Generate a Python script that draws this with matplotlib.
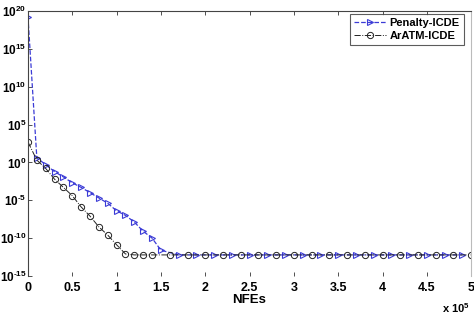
import matplotlib
matplotlib.use("Agg")
import matplotlib.pyplot as plt

plt.rcParams['font.family'] = ['Liberation Sans', 'DejaVu Sans']
plt.rcParams['mathtext.fontset'] = 'custom'
plt.rcParams['mathtext.rm'] = 'Liberation Sans'
plt.rcParams['mathtext.bf'] = 'Liberation Sans:bold'
plt.rcParams['mathtext.it'] = 'Liberation Sans:italic'

# NFEs in units of 1e5
pen_x = [0.0, 0.1, 0.2, 0.3, 0.4, 0.5, 0.6, 0.7, 0.8, 0.9, 1.0, 1.1, 1.2, 1.3, 1.4, 1.5,
         1.7, 1.9, 2.1, 2.3, 2.5, 2.7, 2.9, 3.1, 3.3, 3.5, 3.7, 3.9, 4.1, 4.3, 4.5, 4.7, 4.9]
pen_y = [1.6e19, 4e0, 5e-1, 6e-2, 1.2e-2, 2e-3, 5e-4, 1e-4, 2e-5, 4e-6, 4e-7, 1e-7, 1.3e-8,
         8e-10, 1e-10, 2.5e-12,
         6e-13, 6e-13, 6e-13, 6e-13, 6e-13, 6e-13, 6e-13, 6e-13, 6e-13, 6e-13, 6e-13, 6e-13,
         6e-13, 6e-13, 6e-13, 6e-13, 6e-13]

ara_x = [0.0, 0.1, 0.2, 0.3, 0.4, 0.5, 0.6, 0.7, 0.8, 0.9, 1.0, 1.1, 1.2, 1.3, 1.4,
         1.6, 1.8, 2.0, 2.2, 2.4, 2.6, 2.8, 3.0, 3.2, 3.4, 3.6, 3.8, 4.0, 4.2, 4.4, 4.6, 4.8, 5.0]
ara_y = [5e2, 2e0, 1.6e-1, 6e-3, 5e-4, 4e-5, 1.3e-6, 8e-8, 3e-9, 2.5e-10, 1.3e-11, 8e-13,
         6e-13, 6e-13, 6e-13,
         6e-13, 6e-13, 6e-13, 6e-13, 6e-13, 6e-13, 6e-13, 6e-13, 6e-13, 6e-13, 6e-13, 6e-13,
         6e-13, 6e-13, 6e-13, 6e-13, 6e-13, 6e-13]

x_ticks = [0, 0.5, 1, 1.5, 2, 2.5, 3, 3.5, 4, 4.5, 5]
x_tick_labels = ['0', '0.5', '1', '1.5', '2', '2.5', '3', '3.5', '4', '4.5', '5']
y_exps = [-15, -10, -5, 0, 5, 10, 15, 20]


def exp_label(e):
    s = str(e).replace('-', '\u2010')
    return r'$\mathbf{10^{%s}}$' % s


fig = plt.figure(figsize=(4.74, 3.15), dpi=100)
ax = fig.add_axes([0.059, 0.124, 0.935, 0.841])

ax.plot(pen_x, pen_y, linestyle='--', color='#3b3bd6', lw=0.9, marker='>',
        markersize=5, markerfacecolor='none', markeredgecolor='#3b3bd6',
        markeredgewidth=0.8, label='Penalty-ICDE')
ax.plot(ara_x, ara_y, linestyle='-.', color='#222222', lw=0.7, marker='o',
        markersize=4.5, markerfacecolor='none', markeredgecolor='#222222',
        markeredgewidth=0.7, label='ArATM-ICDE')

ax.set_yscale('log')
ax.set_xlim(0, 5)
ax.set_ylim(1e-15, 1e20)
ax.set_xticks(x_ticks)
ax.set_xticklabels(x_tick_labels, fontsize=9, fontweight='bold')
ax.set_yticks([10.0 ** e for e in y_exps])
ax.set_yticklabels([exp_label(e) for e in y_exps], fontsize=8.5)
ax.minorticks_off()
ax.tick_params(axis='both', direction='in', length=3, width=0.6, top=True,
               right=False, colors='#333333', pad=4.5)
ax.tick_params(axis='y', pad=1)
for lab in ax.get_xticklabels() + ax.get_yticklabels():
    lab.set_color('black')

ax.spines['left'].set_color('#444444')
ax.spines['top'].set_color('#444444')
ax.spines['right'].set_color('#bbbbbb')
ax.spines['bottom'].set_visible(False)
for s in ax.spines.values():
    s.set_linewidth(0.8)

ax.set_xlabel('NFEs', fontsize=9.5, fontweight='bold', labelpad=0)
ax.text(0.998, -0.12, r'x 10$^{\mathbf{5}}$', transform=ax.transAxes, ha='right',
        va='center', fontsize=8, fontweight='bold')

leg = ax.legend(loc='upper right', bbox_to_anchor=(0.983, 0.987), fontsize=8,
                frameon=True, fancybox=False, edgecolor='#333333',
                handlelength=2.9, handletextpad=0.3, borderpad=0.35,
                labelspacing=0.25, borderaxespad=0)
leg.get_frame().set_linewidth(0.8)
for t in leg.get_texts():
    t.set_fontweight('bold')

fig.savefig('out.png', dpi=100)
